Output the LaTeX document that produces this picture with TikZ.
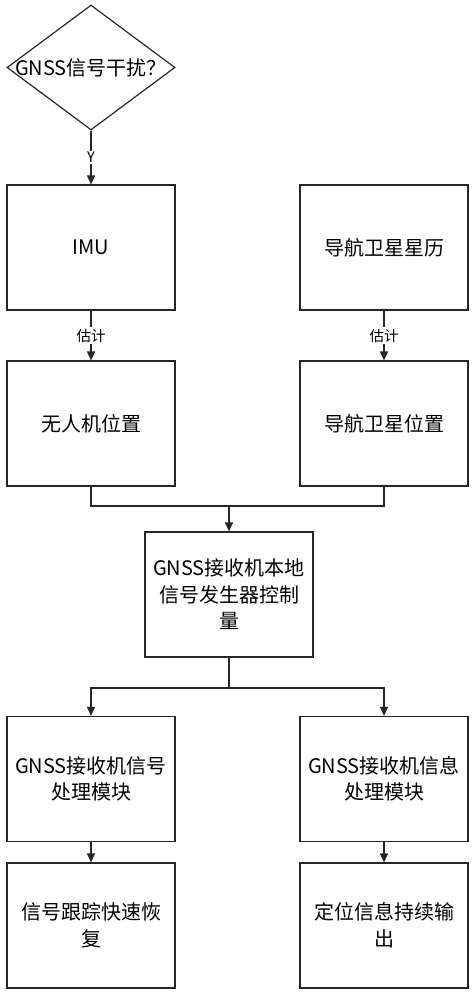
\documentclass[tikz,border=0pt]{standalone}
\usepackage{fontspec}
\setmainfont{Noto Sans CJK SC}
\usetikzlibrary{shapes.geometric,arrows.meta}

\tikzset{
    blk/.style={draw=black!85,line width=1.2pt,minimum width=168pt,minimum height=125pt,inner sep=0pt,align=center,font=\fontsize{20}{26.5}\selectfont},
    dec/.style={blk,shape=diamond,minimum height=125pt},
    arr/.style={-{Triangle[length=9pt,width=8pt]}},
    lab/.style={fill=white,inner sep=1.5pt,font=\fontsize{14.5}{16}\selectfont}
}

\begin{document}
\begin{tikzpicture}[x=1pt,y=-1pt,line width=1.2pt,draw=black!85]
                \useasboundingbox (0,0) rectangle (474,995);
                
                \node[dec] (jam) at (91,67.5) {\makebox[0pt]{GNSS信号干扰？}};
                \node[blk] (imu) at (91,247.5) {IMU};
                \node[blk] (eph) at (384,247.5) {导航卫星星历};
                \node[blk] (uav) at (91,423.5) {无人机位置};
                \node[blk] (sat) at (384,423.5) {导航卫星位置};
                \node[blk] (ctrl) at (229,594.5) {GNSS接收机本地\\信号发生器控制\\量};
                \node[blk] (sig) at (91,779) {GNSS接收机信号\\处理模块};
                \node[blk] (info) at (384,779) {GNSS接收机信息\\处理模块};
                \node[blk] (trk) at (91,925.5) {信号跟踪快速恢\\复};
                \node[blk] (outp) at (384,925.5) {定位信息持续输\\出};
                
                \coordinate (mrg) at (229,506);
                \coordinate (spl) at (229,688);
                
                \draw[arr] (jam.south) -- (imu.north) node[lab,midway] {Y};
                \draw[arr] (imu) -- (uav) node[lab,midway] {估计};
                \draw[arr] (eph) -- (sat) node[lab,midway] {估计};
                
                \draw (uav.south) |- (mrg) -| (sat.south);
                \draw[arr] (mrg) -- (ctrl.north);
                
                \draw (ctrl.south) -- (spl);
                \draw[arr] (spl) -| (sig.north);
                \draw[arr] (spl) -| (info.north);
                
                \draw[arr] (sig) -- (trk);
                \draw[arr] (info) -- (outp);
            \end{tikzpicture}
\end{document}
